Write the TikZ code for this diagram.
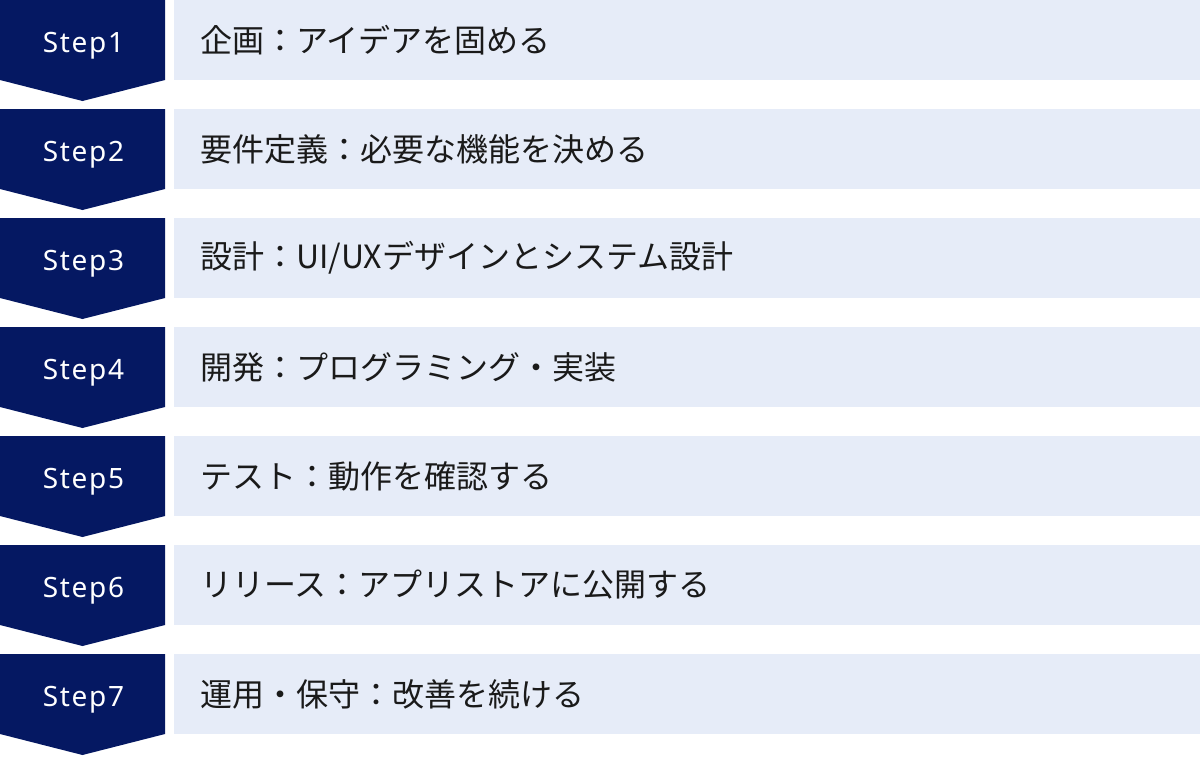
\documentclass[tikz,border=0pt]{standalone}
\usepackage{fontspec}
\newfontfamily\cjk{Noto Sans CJK JP}
\newfontfamily\latin[LetterSpace=6]{Noto Sans}
\definecolor{navy}{HTML}{051862}
\definecolor{pale}{HTML}{E6ECF8}
\definecolor{ink}{HTML}{1A1A1A}
\tikzset{
  chev/.style={fill=navy},
  band/.style={fill=pale},
  steplbl/.style={text=white, font=\latin\fontsize{28}{30}\selectfont, inner sep=0pt, anchor=base},
  desclbl/.style={text=ink, font=\cjk\fontsize{32}{34}\selectfont, anchor=west, inner sep=0pt}
}
\begin{document}
\begin{tikzpicture}[x=1pt,y=-1pt]
\useasboundingbox (0,0) rectangle (1200,756);
\foreach \i/\t in {1/{企画：アイデアを固める},
                   2/{要件定義：必要な機能を決める},
                   3/{設計：UI/UXデザインとシステム設計},
                   4/{開発：プログラミング・実装},
                   5/{テスト：動作を確認する},
                   6/{リリース：アプリストアに公開する},
                   7/{運用・保守：改善を続ける}}{
  \pgfmathsetmacro{\top}{109*(\i-1)}
  \fill[chev] (0,\top) -- (165,\top) -- (165,\top+80) -- (82.5,\top+101) -- (0,\top+80) -- cycle;
  \fill[band] (174,\top) rectangle (1200,\top+80);
  \node[steplbl] (step\i) at (83.5,\top+52) {Step\i};
  \node[desclbl] (desc\i) at (200,\top+40) {\t};
}
\end{tikzpicture}
\end{document}
